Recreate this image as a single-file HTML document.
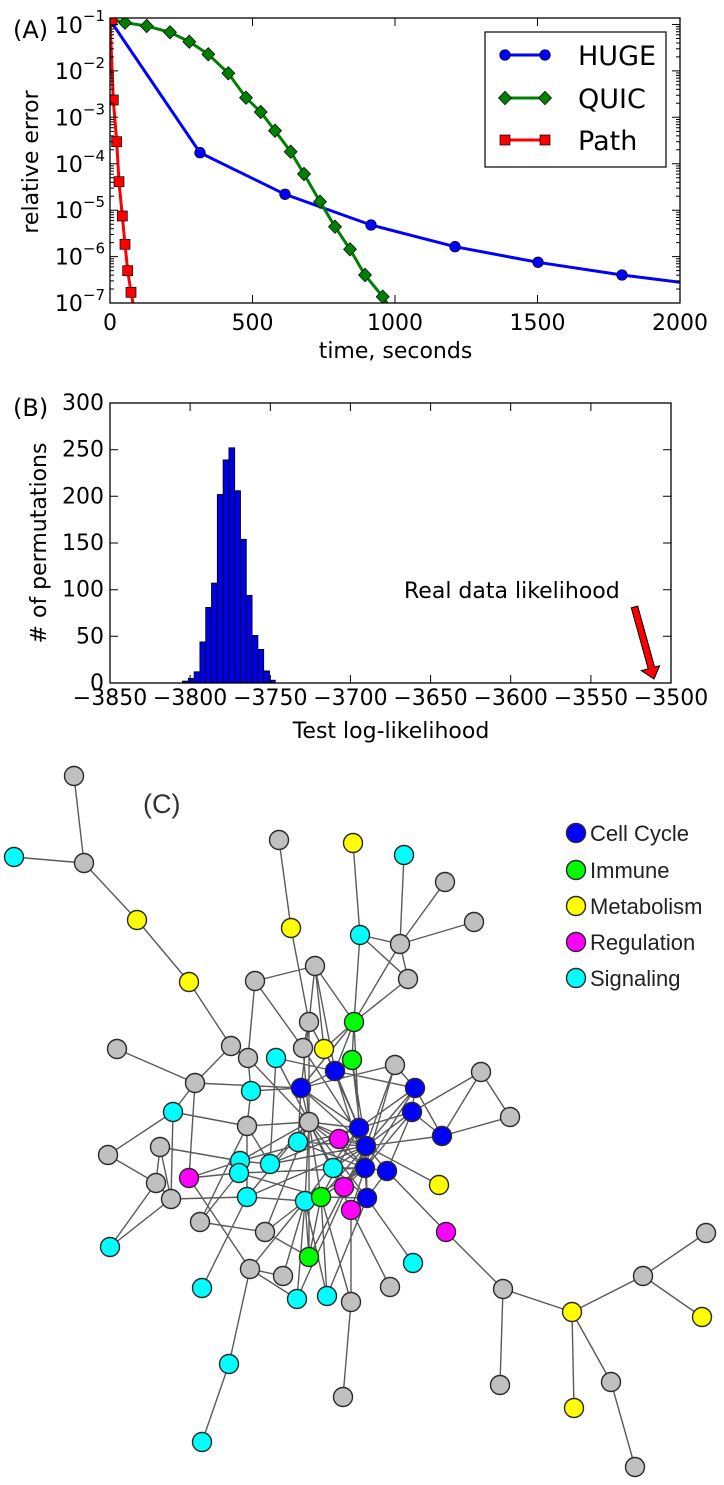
<!DOCTYPE html>
<html><head><meta charset="utf-8"><style>html,body{margin:0;padding:0;background:#fff}svg{display:block}</style></head>
<body>
<svg width="724" height="1485" viewBox="0 0 724 1485" xmlns="http://www.w3.org/2000/svg" font-family="'DejaVu Sans','Liberation Sans',sans-serif">
<defs>
<clipPath id="ca"><rect x="110" y="18" width="570" height="285"/></clipPath>
</defs>
<rect width="724" height="1485" fill="#fff"/>

<!-- ============ PANEL A ============ -->
<g clip-path="url(#ca)">
<!-- HUGE -->
<path d="M110 20L200 152.7L285 194.3L371 225L455 246.7L538 262.3L622 275L680 282.3" fill="none" stroke="#0000ff" stroke-width="3"/>
<g fill="#0000ff" stroke="#000" stroke-width="0.7">
<circle cx="200" cy="152.7" r="5.3"/><circle cx="285" cy="194.3" r="5.3"/><circle cx="371" cy="225" r="5.3"/><circle cx="455" cy="246.7" r="5.3"/><circle cx="538" cy="262.3" r="5.3"/><circle cx="622" cy="275" r="5.3"/>
</g>
<!-- QUIC -->
<path d="M110 19L125 22.7L146.7 26L170 32.3L189.3 41.7L208.3 54.3L228.3 73.3L246 97.7L260.7 112L275 130.7L290.7 151.7L304 174L320 201.7L335 226.7L350 249.3L365 275L382.7 296.7L387 303" fill="none" stroke="#008000" stroke-width="3"/>
<g fill="#008000" stroke="#000" stroke-width="0.7">
<path d="M125 16l6.5 6.7l-6.5 6.7l-6.5 -6.7z"/>
<path d="M146.7 19.3l6.5 6.7l-6.5 6.7l-6.5 -6.7z"/>
<path d="M170 25.6l6.5 6.7l-6.5 6.7l-6.5 -6.7z"/>
<path d="M189.3 35l6.5 6.7l-6.5 6.7l-6.5 -6.7z"/>
<path d="M208.3 47.6l6.5 6.7l-6.5 6.7l-6.5 -6.7z"/>
<path d="M228.3 66.6l6.5 6.7l-6.5 6.7l-6.5 -6.7z"/>
<path d="M246 91l6.5 6.7l-6.5 6.7l-6.5 -6.7z"/>
<path d="M260.7 105.3l6.5 6.7l-6.5 6.7l-6.5 -6.7z"/>
<path d="M275 124l6.5 6.7l-6.5 6.7l-6.5 -6.7z"/>
<path d="M290.7 145l6.5 6.7l-6.5 6.7l-6.5 -6.7z"/>
<path d="M304 167.3l6.5 6.7l-6.5 6.7l-6.5 -6.7z"/>
<path d="M320 195l6.5 6.7l-6.5 6.7l-6.5 -6.7z"/>
<path d="M335 220l6.5 6.7l-6.5 6.7l-6.5 -6.7z"/>
<path d="M350 242.6l6.5 6.7l-6.5 6.7l-6.5 -6.7z"/>
<path d="M365 268.3l6.5 6.7l-6.5 6.7l-6.5 -6.7z"/>
<path d="M382.7 290l6.5 6.7l-6.5 6.7l-6.5 -6.7z"/>
</g>
<!-- Path -->
<path d="M110 19L113.3 100L116.7 141.7L119 181.7L122.3 216L125 244.3L127.7 270.7L131 292.3L133 303" fill="none" stroke="#ff0000" stroke-width="3"/>
<g fill="#ff0000" stroke="#000" stroke-width="0.7">
<rect x="107" y="15" width="10" height="10"/>
<rect x="108.3" y="95" width="10" height="10"/>
<rect x="111.7" y="136.7" width="10" height="10"/>
<rect x="114" y="176.7" width="10" height="10"/>
<rect x="117.3" y="211" width="10" height="10"/>
<rect x="120" y="239.3" width="10" height="10"/>
<rect x="122.7" y="265.7" width="10" height="10"/>
<rect x="126" y="287.3" width="10" height="10"/>
</g>
</g>
<!-- axes A -->
<rect x="110" y="18" width="570" height="285" fill="none" stroke="#000" stroke-width="1.3"/>
<g stroke="#000" stroke-width="1">
<path d="M110 24.5h8M110 70.9h8M110 117.3h8M110 163.8h8M110 210.2h8M110 256.6h8M680 24.5h-8M680 70.9h-8M680 117.3h-8M680 163.8h-8M680 210.2h-8M680 256.6h-8"/>
<path d="M252.5 303v-8M395 303v-8M537.5 303v-8M252.5 18v8M395 18v8M537.5 18v8"/>
<path d="M110 56.9h4M110 48.8h4M110 43h4M110 38.5h4M110 34.8h4M110 31.7h4M110 29h4M110 26.6h4
M110 103.3h4M110 95.2h4M110 89.4h4M110 84.9h4M110 81.2h4M110 78.1h4M110 75.4h4M110 73h4
M110 149.8h4M110 141.7h4M110 135.9h4M110 131.4h4M110 127.7h4M110 124.6h4M110 121.9h4M110 119.5h4
M110 196.2h4M110 188.1h4M110 182.3h4M110 177.8h4M110 174.1h4M110 171h4M110 168.3h4M110 165.9h4
M110 242.6h4M110 234.5h4M110 228.7h4M110 224.2h4M110 220.5h4M110 217.4h4M110 214.7h4M110 212.3h4
M110 289h4M110 280.9h4M110 275.1h4M110 270.6h4M110 266.9h4M110 263.8h4M110 261.1h4M110 258.7h4
M680 56.9h-4M680 48.8h-4M680 43h-4M680 38.5h-4M680 34.8h-4M680 31.7h-4M680 29h-4M680 26.6h-4
M680 103.3h-4M680 95.2h-4M680 89.4h-4M680 84.9h-4M680 81.2h-4M680 78.1h-4M680 75.4h-4M680 73h-4
M680 149.8h-4M680 141.7h-4M680 135.9h-4M680 131.4h-4M680 127.7h-4M680 124.6h-4M680 121.9h-4M680 119.5h-4
M680 196.2h-4M680 188.1h-4M680 182.3h-4M680 177.8h-4M680 174.1h-4M680 171h-4M680 168.3h-4M680 165.9h-4
M680 242.6h-4M680 234.5h-4M680 228.7h-4M680 224.2h-4M680 220.5h-4M680 217.4h-4M680 214.7h-4M680 212.3h-4
M680 289h-4M680 280.9h-4M680 275.1h-4M680 270.6h-4M680 266.9h-4M680 263.8h-4M680 261.1h-4M680 258.7h-4"/>
</g>
<!-- legend A -->
<rect x="485" y="32" width="181" height="135" fill="#fff" stroke="#000" stroke-width="1.2"/>
<path d="M505 55H545" stroke="#0000ff" stroke-width="3"/>
<g fill="#0000ff" stroke="#000" stroke-width="0.7"><circle cx="505" cy="55" r="5.3"/><circle cx="545" cy="55" r="5.3"/></g>
<path d="M505 98H545" stroke="#008000" stroke-width="3"/>
<g fill="#008000" stroke="#000" stroke-width="0.7"><path d="M505 91.3l6.5 6.7l-6.5 6.7l-6.5 -6.7z"/><path d="M545 91.3l6.5 6.7l-6.5 6.7l-6.5 -6.7z"/></g>
<path d="M505 140H545" stroke="#ff0000" stroke-width="3"/>
<g fill="#ff0000" stroke="#000" stroke-width="0.7"><rect x="500" y="135" width="10" height="10"/><rect x="540" y="135" width="10" height="10"/></g>
<g font-size="27" fill="#000">
<text x="578" y="65">HUGE</text>
<text x="578" y="108">QUIC</text>
<text x="578" y="150">Path</text>
</g>
<!-- tick labels A -->
<g font-size="22" fill="#000" text-anchor="end">
<text x="105" y="33">10<tspan font-size="15" dy="-12">−1</tspan></text>
<text x="105" y="78.9">10<tspan font-size="15" dy="-11">−2</tspan></text>
<text x="105" y="125.3">10<tspan font-size="15" dy="-11">−3</tspan></text>
<text x="105" y="171.8">10<tspan font-size="15" dy="-11">−4</tspan></text>
<text x="105" y="218.2">10<tspan font-size="15" dy="-11">−5</tspan></text>
<text x="105" y="264.6">10<tspan font-size="15" dy="-11">−6</tspan></text>
<text x="105" y="311">10<tspan font-size="15" dy="-11">−7</tspan></text>
</g>
<g font-size="22" fill="#000" text-anchor="middle">
<text x="110" y="330">0</text>
<text x="252.5" y="330">500</text>
<text x="395" y="330">1000</text>
<text x="537.5" y="330">1500</text>
<text x="680" y="330">2000</text>
<text x="395.5" y="358">time, seconds</text>
<text transform="translate(38,162) rotate(-90)">relative error</text>
</g>
<text x="13" y="38" font-size="24" fill="#000">(A)</text>

<!-- ============ PANEL B ============ -->
<g fill="#0000e6" stroke="#000" stroke-width="0.8">
<rect x="182.5" y="681.1" width="5.8" height="1.9"/>
<rect x="188.3" y="678.3" width="5.8" height="4.7"/>
<rect x="194.1" y="671.8" width="5.8" height="11.2"/>
<rect x="199.9" y="641.9" width="5.8" height="41.1"/>
<rect x="205.7" y="607.4" width="5.8" height="75.6"/>
<rect x="211.5" y="583.1" width="5.8" height="99.9"/>
<rect x="217.3" y="494.5" width="5.8" height="188.5"/>
<rect x="223.1" y="459.9" width="5.8" height="223.1"/>
<rect x="228.9" y="447.8" width="5.8" height="235.2"/>
<rect x="234.7" y="490.7" width="5.8" height="192.3"/>
<rect x="240.5" y="539.3" width="5.8" height="143.7"/>
<rect x="246.3" y="595.3" width="5.8" height="87.7"/>
<rect x="252.1" y="635.4" width="5.8" height="47.6"/>
<rect x="257.9" y="649.4" width="5.8" height="33.6"/>
<rect x="263.7" y="670.9" width="5.8" height="12.1"/>
<rect x="269.5" y="680.2" width="5.8" height="2.8"/>
</g>
<rect x="110" y="403" width="561" height="280" fill="none" stroke="#000" stroke-width="1.3"/>
<g stroke="#000" stroke-width="1">
<path d="M190.1 683v-8M270.3 683v-8M350.4 683v-8M430.6 683v-8M510.7 683v-8M590.9 683v-8M190.1 403v8M270.3 403v8M350.4 403v8M430.6 403v8M510.7 403v8M590.9 403v8"/>
<path d="M110 449.7h8M110 496.3h8M110 543h8M110 589.7h8M110 636.3h8M671 449.7h-8M671 496.3h-8M671 543h-8M671 589.7h-8M671 636.3h-8"/>
</g>
<g font-size="22" fill="#000" text-anchor="end">
<text x="104" y="410">300</text>
<text x="104" y="456.7">250</text>
<text x="104" y="503.3">200</text>
<text x="104" y="550">150</text>
<text x="104" y="596.7">100</text>
<text x="104" y="643.3">50</text>
<text x="104" y="690">0</text>
</g>
<g font-size="22" fill="#000" text-anchor="middle">
<text x="110" y="705">−3850</text>
<text x="190.1" y="705">−3800</text>
<text x="270.3" y="705">−3750</text>
<text x="350.4" y="705">−3700</text>
<text x="430.6" y="705">−3650</text>
<text x="510.7" y="705">−3600</text>
<text x="590.9" y="705">−3550</text>
<text x="671" y="705">−3500</text>
<text x="391" y="738">Test log-likelihood</text>
<text transform="translate(46,543) rotate(-90)">#  of permutations</text>
</g>
<text x="13" y="416" font-size="24" fill="#000">(B)</text>
<text x="404" y="598" font-size="22" fill="#000">Real data likelihood</text>
<polygon points="631.3,607.9 648.2,668.8 641.3,670.6 654,679 659.6,665.8 654.6,667 637.7,606.1" fill="#ff0000" stroke="#000" stroke-width="1"/>

<!-- ============ PANEL C ============ -->
<text x="143" y="813" font-size="27" fill="#333" font-family="'Liberation Sans',sans-serif">(C)</text>
<path fill="none" stroke="#5a5a5a" stroke-width="1.4" d="
M74 776L84 863M14 857L84 863M84 863L137 920M137 920L189 982M189 982L231 1046
M279 840L291 928M291 928L309 1022M353 843L360 935
M360 935L400 944M360 935L408 979M360 935L354 1022
M404 855L400 944M445 882L400 944M474 922L400 944M400 944L408 979M400 944L354 1022M408 979L354 1022
M255 981L315 966M255 981L248 1058M255 981L303 1048
M315 966L309 1022M315 966L354 1022M315 966L335 1071M315 966L324 1049
M309 1022L309 1122M309 1022L303 1048M309 1022L335 1071M309 1022L301 1088
M354 1022L352 1060M354 1022L335 1071M354 1022L324 1049M354 1022L359 1128M354 1022L301 1088
M117 1049L195 1083M231 1046L195 1083M231 1046L248 1058M248 1058L251 1091M251 1091L247 1126
M195 1083L301 1088M251 1091L301 1088M195 1083L173 1112M195 1083L189 1178
M276 1058L335 1071M276 1058L309 1122M303 1048L309 1122M303 1048L366 1146M324 1049L359 1128
M352 1060L335 1071M352 1060L366 1146M352 1060L365 1168
M335 1071L359 1128M335 1071L366 1146M335 1071L365 1168M335 1071L301 1088M335 1071L415 1088
M395 1065L415 1088M395 1065L301 1088M395 1065L366 1146M395 1065L365 1168
M481 1072L510 1117M481 1072L442 1136M481 1072L412 1112
M301 1088L359 1128M301 1088L366 1146M301 1088L309 1122
M415 1088L412 1112M415 1088L359 1128M415 1088L366 1146M415 1088L365 1168
M412 1112L359 1128M412 1112L366 1146M412 1112L365 1168M412 1112L387 1171M412 1112L442 1136
M359 1128L366 1146M359 1128L365 1168M366 1146L365 1168M366 1146L387 1171M365 1168L387 1171M365 1168L367 1198M387 1171L367 1198M366 1146L367 1198
M339 1139L366 1146M339 1139L365 1168M339 1139L309 1122M333 1168L365 1168M333 1168L366 1146
M344 1187L365 1168M344 1187L366 1146M351 1210L367 1198M351 1210L365 1168
M321 1197L366 1146M321 1197L359 1128M321 1197L365 1168M305 1201L359 1128M305 1201L309 1122
M442 1136L415 1088M442 1136L510 1117M442 1136L366 1146M439 1185L366 1146
M446 1232L387 1171M446 1232L503 1289M413 1263L367 1198M390 1287L351 1210
M503 1289L572 1312M503 1289L500 1385M572 1312L643 1276M572 1312L574 1408M572 1312L611 1382
M643 1276L706 1233M643 1276L702 1317M611 1382L635 1467
M173 1112L108 1155M173 1112L171 1199M173 1112L247 1126M108 1155L156 1183M160 1147L156 1183M160 1147L240 1161M160 1147L171 1199
M156 1183L171 1199M156 1183L110 1247M171 1199L110 1247M171 1199L247 1197
M189 1178L240 1161M189 1178L239 1173M189 1178L250 1269
M200 1222L239 1173M200 1222L265 1232M200 1222L247 1126
M247 1197L202 1288M247 1197L305 1201M265 1232L305 1201M265 1232L309 1257
M250 1269L229 1364M229 1364L202 1442M250 1269L283 1276M250 1269L297 1299M250 1269L305 1201M283 1276L305 1201
M305 1201L309 1257M305 1201L297 1299M305 1201L327 1296M321 1197L309 1257M321 1197L327 1296
M351 1302L321 1197M351 1302L351 1210M343 1397L351 1302
M309 1257L309 1122M265 1232L309 1122M247 1197L309 1122M240 1161L309 1122M270 1164L309 1122
M270 1164L366 1146M239 1173L365 1168M240 1161L270 1164M247 1126L309 1122M247 1126L270 1164
M298 1142L309 1122M298 1142L366 1146M298 1142L301 1088M298 1142L365 1168
M333 1168L309 1122M333 1168L367 1198M305 1201L365 1168M321 1197L367 1198M239 1173L321 1197
M276 1058L270 1164M309 1122L359 1128M309 1122L366 1146M309 1122L365 1168M309 1122L367 1198M309 1122L321 1197M309 1122L351 1210
M247 1126L247 1197M240 1161L359 1128M270 1164L359 1128M247 1197L366 1146M309 1257L366 1146M297 1299L366 1146M327 1296L367 1198
M248 1058L309 1122"/>
<g stroke="#2a2a2a" stroke-width="1.4">
<g fill="#c0c0c0">
<circle cx="74" cy="776" r="9.5"/><circle cx="84" cy="863" r="9.5"/><circle cx="279" cy="840" r="9.5"/>
<circle cx="445" cy="882" r="9.5"/><circle cx="474" cy="922" r="9.5"/><circle cx="400" cy="944" r="9.5"/><circle cx="408" cy="979" r="9.5"/>
<circle cx="255" cy="981" r="9.5"/><circle cx="315" cy="966" r="9.5"/><circle cx="309" cy="1022" r="9.5"/>
<circle cx="117" cy="1049" r="9.5"/><circle cx="231" cy="1046" r="9.5"/><circle cx="248" cy="1058" r="9.5"/><circle cx="303" cy="1048" r="9.5"/>
<circle cx="395" cy="1065" r="9.5"/><circle cx="481" cy="1072" r="9.5"/><circle cx="195" cy="1083" r="9.5"/><circle cx="510" cy="1117" r="9.5"/>
<circle cx="247" cy="1126" r="9.5"/><circle cx="309" cy="1122" r="9.5"/><circle cx="108" cy="1155" r="9.5"/><circle cx="160" cy="1147" r="9.5"/>
<circle cx="156" cy="1183" r="9.5"/><circle cx="171" cy="1199" r="9.5"/><circle cx="200" cy="1222" r="9.5"/><circle cx="265" cy="1232" r="9.5"/>
<circle cx="250" cy="1269" r="9.5"/><circle cx="283" cy="1276" r="9.5"/><circle cx="390" cy="1287" r="9.5"/><circle cx="503" cy="1289" r="9.5"/>
<circle cx="351" cy="1302" r="9.5"/><circle cx="643" cy="1276" r="9.5"/><circle cx="706" cy="1233" r="9.5"/><circle cx="343" cy="1397" r="9.5"/>
<circle cx="500" cy="1385" r="9.5"/><circle cx="611" cy="1382" r="9.5"/><circle cx="635" cy="1467" r="9.5"/>
</g>
<g fill="#00ffff">
<circle cx="14" cy="857" r="9.5"/><circle cx="360" cy="935" r="9.5"/><circle cx="404" cy="855" r="9.5"/><circle cx="276" cy="1058" r="9.5"/>
<circle cx="251" cy="1091" r="9.5"/><circle cx="173" cy="1112" r="9.5"/><circle cx="298" cy="1142" r="9.5"/><circle cx="240" cy="1161" r="9.5"/>
<circle cx="270" cy="1164" r="9.5"/><circle cx="239" cy="1173" r="9.5"/><circle cx="333" cy="1168" r="9.5"/><circle cx="247" cy="1197" r="9.5"/>
<circle cx="305" cy="1201" r="9.5"/><circle cx="110" cy="1247" r="9.5"/><circle cx="413" cy="1263" r="9.5"/><circle cx="202" cy="1288" r="9.5"/>
<circle cx="297" cy="1299" r="9.5"/><circle cx="327" cy="1296" r="9.5"/><circle cx="229" cy="1364" r="9.5"/><circle cx="202" cy="1442" r="9.5"/>
</g>
<g fill="#ffff00">
<circle cx="137" cy="920" r="9.5"/><circle cx="189" cy="982" r="9.5"/><circle cx="353" cy="843" r="9.5"/><circle cx="291" cy="928" r="9.5"/>
<circle cx="324" cy="1049" r="9.5"/><circle cx="439" cy="1185" r="9.5"/><circle cx="572" cy="1312" r="9.5"/><circle cx="702" cy="1317" r="9.5"/><circle cx="574" cy="1408" r="9.5"/>
</g>
<g fill="#00ff00">
<circle cx="354" cy="1022" r="9.5"/><circle cx="352" cy="1060" r="9.5"/><circle cx="321" cy="1197" r="9.5"/><circle cx="309" cy="1257" r="9.5"/>
</g>
<g fill="#0000ff">
<circle cx="335" cy="1071" r="9.5"/><circle cx="301" cy="1088" r="9.5"/><circle cx="415" cy="1088" r="9.5"/><circle cx="412" cy="1112" r="9.5"/>
<circle cx="359" cy="1128" r="9.5"/><circle cx="366" cy="1146" r="9.5"/><circle cx="442" cy="1136" r="9.5"/><circle cx="365" cy="1168" r="9.5"/>
<circle cx="387" cy="1171" r="9.5"/><circle cx="367" cy="1198" r="9.5"/>
</g>
<g fill="#ff00ff">
<circle cx="339" cy="1139" r="9.5"/><circle cx="189" cy="1178" r="9.5"/><circle cx="344" cy="1187" r="9.5"/><circle cx="351" cy="1210" r="9.5"/><circle cx="446" cy="1232" r="9.5"/>
</g>
<!-- legend C -->
<circle cx="576" cy="833" r="9.5" fill="#0000ff"/>
<circle cx="576" cy="870" r="9.5" fill="#00ff00"/>
<circle cx="576" cy="906" r="9.5" fill="#ffff00"/>
<circle cx="576" cy="942" r="9.5" fill="#ff00ff"/>
<circle cx="576" cy="978" r="9.5" fill="#00ffff"/>
</g>
<g font-family="'Liberation Sans',sans-serif" font-size="22" fill="#222">
<text x="590" y="841">Cell Cycle</text>
<text x="590" y="878">Immune</text>
<text x="590" y="914">Metabolism</text>
<text x="590" y="950">Regulation</text>
<text x="590" y="986">Signaling</text>
</g>
</svg>
</body></html>
